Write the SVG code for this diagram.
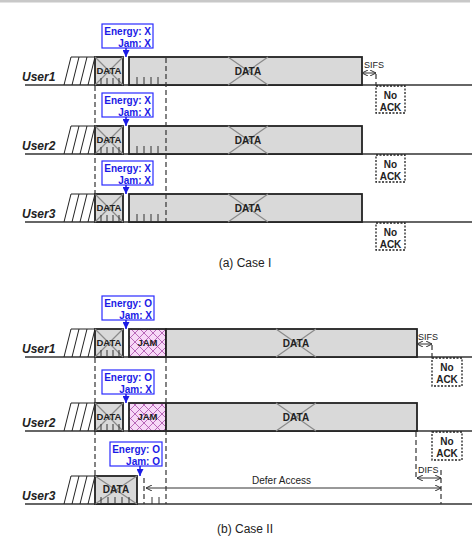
<svg xmlns="http://www.w3.org/2000/svg" width="474" height="557" viewBox="0 0 474 557">
<style>
.base{stroke:#333;stroke-width:1.5;fill:none}
.sl{stroke:#222;stroke-width:1;fill:none}
.box{fill:#d9d9d9;stroke:#222;stroke-width:1.8}
.jam{fill:url(#xh);stroke:#222;stroke-width:1.8}
.cx{stroke:#8a8a8a;stroke-width:1.2;fill:none}
.tk{stroke:#333;stroke-width:1;fill:none}
.dash{stroke:#333;stroke-width:1.2;stroke-dasharray:5,3;fill:none}
.eb{fill:#fff;stroke:#2a2aff;stroke-width:1.2}
.et{font-family:"Liberation Sans",Arial,sans-serif;font-size:10px;font-weight:bold;fill:#1a1ae6;text-anchor:end}
.ba{stroke:#1a1ae6;stroke-width:1.5;fill:none}
.lbl{font-family:"Liberation Sans",Arial,sans-serif;font-size:12px;font-weight:bold;font-style:italic;fill:#222}
.dt{font-family:"Liberation Sans",Arial,sans-serif;font-size:9.5px;font-weight:bold;fill:#222;text-anchor:middle}
.dtl{font-family:"Liberation Sans",Arial,sans-serif;font-size:10px;font-weight:bold;fill:#222;text-anchor:middle}
.na{fill:#fff;stroke:#222;stroke-width:1.3;stroke-dasharray:2,1.5}
.nt{font-family:"Liberation Sans",Arial,sans-serif;font-size:10px;font-weight:bold;fill:#222;text-anchor:middle}
.sm{font-family:"Liberation Sans",Arial,sans-serif;font-size:9px;fill:#222}
.cap{font-family:"Liberation Sans",Arial,sans-serif;font-size:12px;fill:#222;text-anchor:middle}
.da{stroke:#333;stroke-width:1;fill:none;marker-start:url(#ch);marker-end:url(#ch)}
</style>
<defs>
<pattern id="xh" width="9" height="9" patternUnits="userSpaceOnUse">
<rect width="9" height="9" fill="#f7d8f7"/>
<path d="M0,0 L9,9 M9,0 L0,9" stroke="#a84aa8" stroke-width="0.8"/>
</pattern>
<marker id="ab" viewBox="0 0 8 8" refX="8" refY="4" markerWidth="7" markerHeight="7" markerUnits="userSpaceOnUse" orient="auto">
<path d="M0,0 L8,4 L0,8 z" fill="#1a1ae6"/>
</marker>
<marker id="ch" viewBox="0 0 6 6" refX="6" refY="3" markerWidth="6" markerHeight="6" markerUnits="userSpaceOnUse" orient="auto-start-reverse">
<path d="M0,0 L6,3 L0,6" fill="none" stroke="#333" stroke-width="1"/>
</marker>
</defs>
<rect x="0" y="0" width="470" height="2.5" fill="#c8c8c8"/>

<!-- Case I -->
<g id="c1-user1">
<line class="base" x1="25" y1="85" x2="472" y2="85"/>
<path class="sl" d="M64,85 L71,57 M72,85 L79,57 M80,85 L87,57 M88,85 L95,57 M71,57 L95,57"/>
<rect class="box" x="95" y="57" width="28" height="28"/>
<path class="cx" d="M95,57 L123,85 M123,57 L95,85"/>
<path class="tk" d="M101,78 V85 M107,78 V85 M113,78 V85 M119,78 V85"/>
<text class="dt" x="109" y="74">DATA</text>
<rect class="box" x="129" y="57" width="233" height="28"/>
<path class="cx" d="M228,57 L268,85 M268,57 L228,85"/>
<path class="tk" d="M137,77 V85 M144,77 V85 M151,77 V85 M158,77 V85"/>
<text class="dtl" x="248" y="75">DATA</text>
<text class="lbl" x="22" y="81">User1</text>
</g>
<g id="c1-user2">
<line class="base" x1="25" y1="154" x2="472" y2="154"/>
<path class="sl" d="M64,154 L71,126 M72,154 L79,126 M80,154 L87,126 M88,154 L95,126 M71,126 L95,126"/>
<rect class="box" x="95" y="126" width="28" height="28"/>
<path class="cx" d="M95,126 L123,154 M123,126 L95,154"/>
<path class="tk" d="M101,147 V154 M107,147 V154 M113,147 V154 M119,147 V154"/>
<text class="dt" x="109" y="143">DATA</text>
<rect class="box" x="129" y="126" width="233" height="28"/>
<path class="cx" d="M228,126 L268,154 M268,126 L228,154"/>
<path class="tk" d="M137,146 V154 M144,146 V154 M151,146 V154 M158,146 V154"/>
<text class="dtl" x="248" y="144">DATA</text>
<text class="lbl" x="22" y="150">User2</text>
</g>
<g id="c1-user3">
<line class="base" x1="25" y1="222" x2="472" y2="222"/>
<path class="sl" d="M64,222 L71,194 M72,222 L79,194 M80,222 L87,194 M88,222 L95,194 M71,194 L95,194"/>
<rect class="box" x="95" y="194" width="28" height="28"/>
<path class="cx" d="M95,194 L123,222 M123,194 L95,222"/>
<path class="tk" d="M101,215 V222 M107,215 V222 M113,215 V222 M119,215 V222"/>
<text class="dt" x="109" y="211">DATA</text>
<rect class="box" x="129" y="194" width="233" height="28"/>
<path class="cx" d="M228,194 L268,222 M268,194 L228,222"/>
<path class="tk" d="M137,214 V222 M144,214 V222 M151,214 V222 M158,214 V222"/>
<text class="dtl" x="248" y="212">DATA</text>
<text class="lbl" x="22" y="218">User3</text>
</g>
<g id="c1-energy1"><rect class="eb" x="102" y="24" width="51" height="24"/><text class="et" x="151" y="35">Energy: X</text><text class="et" x="151" y="46.5">Jam: X</text></g>
<g id="c1-energy2"><rect class="eb" x="102" y="93" width="51" height="24"/><text class="et" x="151" y="104">Energy: X</text><text class="et" x="151" y="115.5">Jam: X</text></g>
<g id="c1-energy3"><rect class="eb" x="102" y="161" width="51" height="24"/><text class="et" x="151" y="172">Energy: X</text><text class="et" x="151" y="183.5">Jam: X</text></g>
<g id="c1-noack1"><rect class="na" x="376" y="86" width="29" height="27"/><text class="nt" x="390.5" y="99">No</text><text class="nt" x="390.5" y="110.5">ACK</text></g>
<g id="c1-noack2"><rect class="na" x="376" y="155" width="29" height="27"/><text class="nt" x="390.5" y="168">No</text><text class="nt" x="390.5" y="179.5">ACK</text></g>
<g id="c1-noack3"><rect class="na" x="376" y="223" width="29" height="27"/><text class="nt" x="390.5" y="236">No</text><text class="nt" x="390.5" y="247.5">ACK</text></g>
<text class="sm" x="364" y="68">SIFS</text>
<text class="cap" x="245" y="267">(a) Case I</text>

<!-- Case II -->
<g id="c2-user1">
<line class="base" x1="25" y1="357" x2="472" y2="357"/>
<path class="sl" d="M64,357 L71,329 M72,357 L79,329 M80,357 L87,329 M88,357 L95,329 M71,329 L95,329"/>
<rect class="box" x="95" y="329" width="28" height="28"/>
<path class="cx" d="M95,329 L123,357 M123,329 L95,357"/>
<path class="tk" d="M101,350 V357 M107,350 V357 M113,350 V357 M119,350 V357"/>
<text class="dt" x="109" y="346">DATA</text>
<rect class="jam" x="129" y="329" width="37" height="28"/>
<text class="dt" x="147.5" y="346">JAM</text>
<rect class="box" x="166" y="329" width="251" height="28"/>
<path class="cx" d="M276,329 L316,357 M316,329 L276,357"/>
<text class="dtl" x="296" y="347">DATA</text>
<text class="lbl" x="22" y="353">User1</text>
</g>
<g id="c2-user2">
<line class="base" x1="25" y1="431" x2="472" y2="431"/>
<path class="sl" d="M64,431 L71,403 M72,431 L79,403 M80,431 L87,403 M88,431 L95,403 M71,403 L95,403"/>
<rect class="box" x="95" y="403" width="28" height="28"/>
<path class="cx" d="M95,403 L123,431 M123,403 L95,431"/>
<path class="tk" d="M101,424 V431 M107,424 V431 M113,424 V431 M119,424 V431"/>
<text class="dt" x="109" y="420">DATA</text>
<rect class="jam" x="129" y="403" width="37" height="28"/>
<text class="dt" x="147.5" y="420">JAM</text>
<rect class="box" x="166" y="403" width="251" height="28"/>
<path class="cx" d="M276,403 L316,431 M316,403 L276,431"/>
<text class="dtl" x="296" y="421">DATA</text>
<text class="lbl" x="22" y="427">User2</text>
</g>
<g id="c2-user3">
<line class="base" x1="25" y1="504" x2="472" y2="504"/>
<path class="sl" d="M64,504 L71,476 M72,504 L79,476 M80,504 L87,476 M88,504 L95,476 M71,476 L95,476"/>
<rect class="box" x="95" y="476" width="42" height="28"/>
<path class="cx" d="M95,476 L137,504 M137,476 L95,504"/>
<path class="tk" d="M101,497 V504 M108,497 V504 M115,497 V504 M122,497 V504 M129,497 V504"/>
<text class="dtl" x="116" y="493">DATA</text>
<path class="tk" d="M152,497 V504 M159,497 V504"/>
<text class="lbl" x="22" y="500">User3</text>
</g>
<g id="c2-energy1"><rect class="eb" x="102" y="296" width="52" height="24"/><text class="et" x="152" y="307">Energy: O</text><text class="et" x="152" y="318.5">Jam: X</text></g>
<g id="c2-energy2"><rect class="eb" x="102" y="370" width="52" height="24"/><text class="et" x="152" y="381">Energy: O</text><text class="et" x="152" y="392.5">Jam: X</text></g>
<g id="c2-energy3"><rect class="eb" x="110" y="442" width="52" height="24"/><text class="et" x="160" y="453">Energy: O</text><text class="et" x="160" y="464.5">Jam: O</text></g>
<g id="c2-noack1"><rect class="na" x="432" y="358" width="30" height="28"/><text class="nt" x="447" y="371">No</text><text class="nt" x="447" y="382.5">ACK</text></g>
<g id="c2-noack2"><rect class="na" x="432" y="432" width="30" height="28"/><text class="nt" x="447" y="445">No</text><text class="nt" x="447" y="456.5">ACK</text></g>
<text class="sm" x="418" y="340">SIFS</text>
<text class="sm" x="418" y="473">DIFS</text>
<text class="sm" x="281.5" y="484" style="font-size:10px;text-anchor:middle">Defer Access</text>
<text class="cap" x="245" y="533">(b) Case II</text>

<g id="connectors">
<line class="ba" x1="126" y1="48" x2="126" y2="57" marker-end="url(#ab)"/>
<line class="ba" x1="126" y1="117" x2="126" y2="126" marker-end="url(#ab)"/>
<line class="ba" x1="126" y1="185" x2="126" y2="194" marker-end="url(#ab)"/>
<line class="ba" x1="126" y1="320" x2="126" y2="329" marker-end="url(#ab)"/>
<line class="ba" x1="126" y1="394" x2="126" y2="403" marker-end="url(#ab)"/>
<line class="ba" x1="140" y1="466" x2="140" y2="476" marker-end="url(#ab)"/>
<line class="dash" x1="95" y1="86" x2="95" y2="222"/>
<line class="dash" x1="166" y1="58" x2="166" y2="222"/>
<line class="dash" x1="95" y1="358" x2="95" y2="504"/>
<line class="dash" x1="166" y1="358" x2="166" y2="504"/>
<line class="dash" x1="144" y1="478" x2="144" y2="504"/>
<line class="da" x1="362" y1="73" x2="376" y2="73"/>
<line class="dash" x1="376" y1="74" x2="376" y2="86"/>
<line class="da" x1="417" y1="344" x2="432" y2="344"/>
<line class="dash" x1="432" y1="345" x2="432" y2="357"/>
<line class="dash" x1="416" y1="432" x2="416" y2="478"/>
<line class="da" x1="417" y1="478" x2="441" y2="478"/>
<line class="dash" x1="441" y1="470" x2="441" y2="504"/>
<line class="da" x1="146" y1="488" x2="441" y2="488"/>
</g>
</svg>
